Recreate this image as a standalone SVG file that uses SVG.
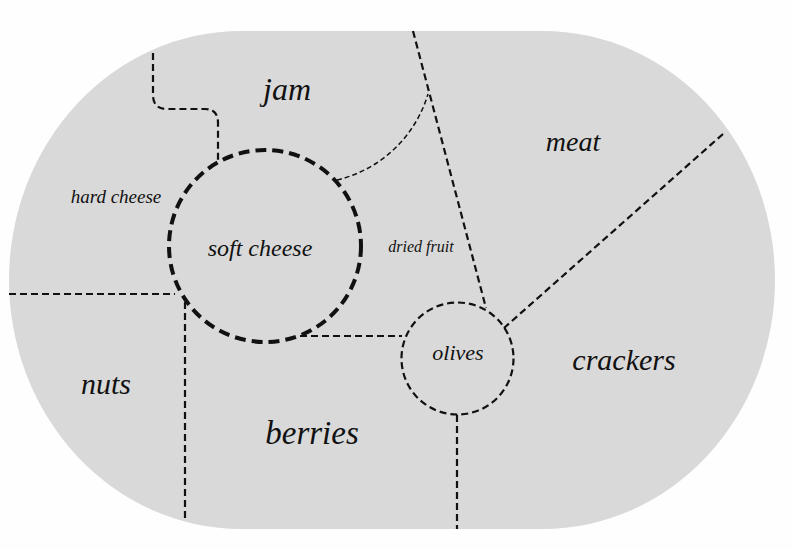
<svg xmlns="http://www.w3.org/2000/svg" width="794" height="549" viewBox="0 0 794 549">
<style>
.lbl{font-family:"Liberation Serif","DejaVu Serif",serif;font-style:italic;fill:#111;text-anchor:middle}
.d{fill:none;stroke:#111;stroke-width:2.2;stroke-dasharray:7 4}
.thin{fill:none;stroke:#111;stroke-width:1.5;stroke-dasharray:5 3}
.thick{fill:none;stroke:#111;stroke-width:4;stroke-dasharray:11 6}
</style>
<rect width="794" height="549" fill="#fefefe"/>
<rect id="board" x="9" y="31" width="766" height="498" rx="232" ry="249" fill="#d9d9d9"/>
<g id="connectors">
<path class="d" d="M153,53 V95 Q153,109 167,109 H205 Q218,109 218,123 V162"/>
<path class="thin" d="M337,180 A125,125 0 0 0 428,94"/>
<path class="d" d="M413,31 L486,308"/>
<path class="d" d="M723,134 L504,328"/>
<path class="d" d="M457,415 V529"/>
<path class="d" d="M300,336 H402"/>
<path class="d" d="M9,294 H175"/>
<path class="d" d="M185,302 V521"/>
</g>
<g id="soft-cheese"><circle class="thick" cx="265" cy="246" r="96"/><text class="lbl" x="260" y="256" font-size="24">soft cheese</text></g>
<g id="olives"><circle class="d" cx="457.5" cy="358.5" r="56" stroke-dasharray="6 3"/><text class="lbl" x="458" y="360" font-size="22">olives</text></g>
<g id="jam"><text class="lbl" x="287" y="100" font-size="32">jam</text></g>
<g id="hard-cheese"><text class="lbl" x="116" y="203" font-size="19">hard cheese</text></g>
<g id="dried-fruit"><text class="lbl" x="421" y="252" font-size="16">dried fruit</text></g>
<g id="meat"><text class="lbl" x="573" y="151" font-size="28">meat</text></g>
<g id="crackers"><text class="lbl" x="624" y="370" font-size="30">crackers</text></g>
<g id="nuts"><text class="lbl" x="106" y="394" font-size="30">nuts</text></g>
<g id="berries"><text class="lbl" x="312" y="444" font-size="33">berries</text></g>
</svg>
